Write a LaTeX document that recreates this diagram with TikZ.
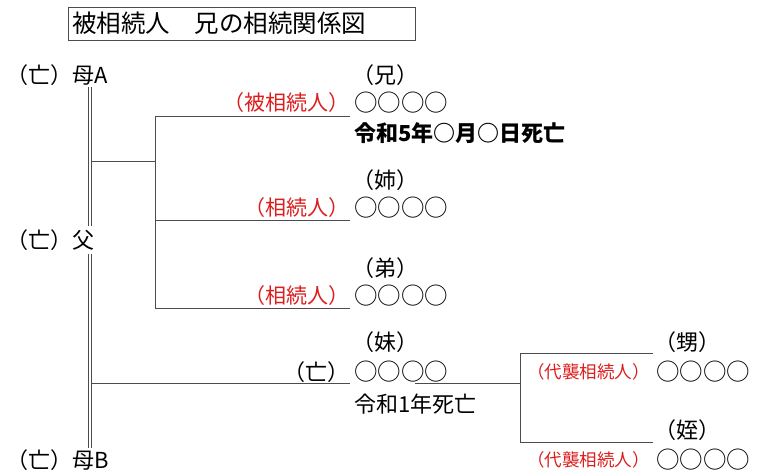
\documentclass[tikz,border=0pt]{standalone}
\usepackage{fontspec}
\newfontfamily\cjk{Noto Sans CJK JP}
\begin{document}
\begin{tikzpicture}[x=1pt,y=-1pt,
  txt/.style={font=\cjk\fontsize{22}{24}\selectfont,inner sep=0pt,anchor=west},
  red/.style={txt,text={rgb,255:red,220;green,30;blue,30},anchor=east,font=\cjk\fontsize{21}{23}\selectfont},
  redsm/.style={red,font=\cjk\fontsize{17.5}{19}\selectfont},
  ln/.style={draw=black!70,line width=0.9pt}]
\useasboundingbox (0,0) rectangle (768,472);
\node[draw=black!70,line width=0.9pt,minimum width=347pt,minimum height=33pt,inner sep=0pt] (title) at (241.5,23.5) {};
\node[txt,font=\cjk\fontsize{24.5}{26}\selectfont] (tt) at (72,23.5) {被相続人　兄の相続関係図};
\node[txt] (mA) at (6,75) {（亡）母A};
\node[txt] (fa) at (6,240) {（亡）父};
\node[txt] (mB) at (6,460) {（亡）母B};
% double line
\draw[ln,double,double distance=2pt] (90,87) -- (90,226);
\draw[ln,double,double distance=2pt] (90,254) -- (90,448);
\coordinate (j1) at (91,161);
\coordinate (b1) at (155,161);
\draw[ln] (j1) -- (b1);
\draw[ln] (155,116) -- (155,308);
\coordinate (e1) at (350,116);
\coordinate (e2) at (350,220);
\coordinate (e3) at (350,308);
\draw[ln] (155,116) -- (e1);
\draw[ln] (155,220) -- (e2);
\draw[ln] (155,308) -- (e3);
\coordinate (j2) at (92,383);
\coordinate (e4) at (350,383);
\draw[ln] (j2) -- (e4);
% names
\node[txt] (n1a) at (352,75) {（兄）};
\node[txt,font=\cjk\fontsize{23.5}{25}\selectfont] (n1) at (354,103) {○○○○};
\node[txt,font=\cjk\bfseries\fontsize{22}{24}\selectfont] (n1d) at (354,133) {令和5年○月○日死亡};
\node[red] (r1) at (350,103) {（被相続人）};
\node[txt] (n2a) at (352,180) {（姉）};
\node[txt,font=\cjk\fontsize{23.5}{25}\selectfont] (n2) at (354,208) {○○○○};
\node[red] (r2) at (350,208) {（相続人）};
\node[txt] (n3a) at (352,268) {（弟）};
\node[txt,font=\cjk\fontsize{23.5}{25}\selectfont] (n3) at (354,296) {○○○○};
\node[red] (r3) at (350,296) {（相続人）};
\node[txt] (n4a) at (352,342) {（妹）};
\node[txt,font=\cjk\fontsize{23.5}{25}\selectfont] (n4) at (354,372) {○○○○};
\node[txt,anchor=east] (d4) at (350,372) {（亡）};
\node[txt] (n4d) at (354,404) {令和1年死亡};
\coordinate (s4) at (415,383);
\coordinate (b2) at (520,383);
\draw[ln] (s4) -- (b2);
\draw[ln] (520,353) -- (520,442);
\coordinate (e5) at (653,353);
\coordinate (e6) at (653,442);
\draw[ln] (520,353) -- (e5);
\draw[ln] (520,442) -- (e6);
\node[txt] (n5a) at (654,342) {（甥）};
\node[txt,font=\cjk\fontsize{23.5}{25}\selectfont] (n5) at (656,372) {○○○○};
\node[redsm] (r5) at (650,372) {（代襲相続人）};
\node[txt] (n6a) at (654,430) {（姪）};
\node[txt,font=\cjk\fontsize{23.5}{25}\selectfont] (n6) at (656,460) {○○○○};
\node[redsm] (r6) at (650,460) {（代襲相続人）};
\end{tikzpicture}
\end{document}
